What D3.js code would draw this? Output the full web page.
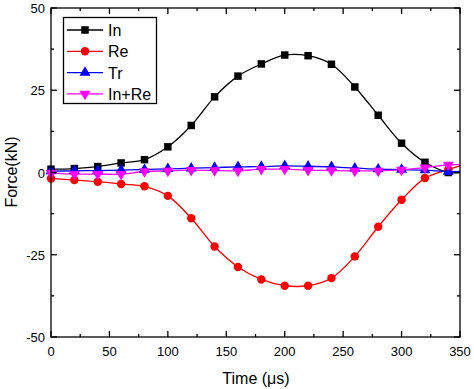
<!DOCTYPE html>
<html><head><meta charset="utf-8">
<script src="https://cdn.jsdelivr.net/npm/d3@7"></script>
<style>body{margin:0;background:#fff}svg{display:block}text{font-family:"Liberation Sans",Arial,sans-serif}</style>
</head><body>
<svg id="c" width="474" height="389"></svg>
<script>
const time = [0,20,40,60,80,100,120,140,160,180,200,220,240,260,280,300,320,340,350];
const inData = [1.0,1.2,1.8,2.9,3.9,7.8,14.3,23.0,29.3,33.0,35.7,35.5,32.9,26.0,17.4,8.9,3.1,0.0,0.0];
const reData = [-1.8,-2.3,-2.8,-3.5,-4.2,-7.1,-13.9,-22.5,-28.7,-32.5,-34.4,-34.4,-32.1,-25.5,-16.5,-8.3,-1.7,0.9,2.0];
const trData = [0.4,0.5,0.6,0.7,0.9,1.1,1.3,1.5,1.7,1.8,2.0,1.9,1.7,1.3,1.0,0.9,0.7,0.3,0.3];
const inReData = [-0.2,-0.5,-0.5,-0.5,0.3,0.5,0.7,0.6,0.5,1.0,1.0,0.7,0.6,0.5,0.5,0.8,1.5,2.3,2.4];
const seriesNames = ["In","Re","Tr","In+Re"];
const seriesColors = ["#000000","#ff0000","#0000ff","#ff00ff"];
const seriesMarkers = ["square","circle","triangle","triangleDown"];
const xTicks = [0,50,100,150,200,250,300,350];
const yTicks = [-50,-25,0,25,50];

const svg = d3.select("#c");
const L=51, R=460, T=8, B=337;
const x = d3.scaleLinear().domain([0,350]).range([L,R]);
const y = d3.scaleLinear().domain([-50,50]).range([B,T]);

const series = [inData,reData,trData,inReData];
const g = svg.append("g");
const line = d3.line().x((d,i)=>x(time[i])).y(d=>y(d)).curve(d3.curveCatmullRom.alpha(0.5));

function marker(sel, type, color){
  const sz = {square:56, circle:56, triangle:52, triangleDown:52}[type];
  const sym = {square:d3.symbolSquare, circle:d3.symbolCircle, triangle:d3.symbolTriangle, triangleDown:d3.symbolTriangle}[type];
  sel.append("path").attr("d", d3.symbol().type(sym).size(sz)())
    .attr("fill", color)
    .attr("transform", type==="triangleDown" ? "rotate(180)" : null);
}

series.forEach((s,k)=>{
  g.append("path").datum(s).attr("d",line).attr("fill","none").attr("stroke",seriesColors[k]).attr("stroke-width",1.3);
});
series.forEach((s,k)=>{
  s.forEach((v,i)=>{
    if (time[i] % 20 !== 0) return;
    const m = g.append("g").attr("transform",`translate(${x(time[i])},${y(v)})`);
    marker(m, seriesMarkers[k], seriesColors[k]);
  });
});

// axes frame
const ax = svg.append("g").attr("stroke","#000").attr("stroke-width",1.3);
ax.append("rect").attr("x",L).attr("y",T).attr("width",R-L).attr("height",B-T).attr("fill","none");
const xMinor = d3.range(25,350,50);
xTicks.forEach(t=>{
  ax.append("line").attr("x1",x(t)).attr("x2",x(t)).attr("y1",B).attr("y2",B-6);
  ax.append("line").attr("x1",x(t)).attr("x2",x(t)).attr("y1",T).attr("y2",T+6);
});
xMinor.forEach(t=>{
  ax.append("line").attr("x1",x(t)).attr("x2",x(t)).attr("y1",B).attr("y2",B-3);
  ax.append("line").attr("x1",x(t)).attr("x2",x(t)).attr("y1",T).attr("y2",T+3);
});
const yMinor = [-37.5,-12.5,12.5,37.5];
yTicks.forEach(t=>{
  ax.append("line").attr("x1",L).attr("x2",L+6).attr("y1",y(t)).attr("y2",y(t));
  ax.append("line").attr("x1",R).attr("x2",R-6).attr("y1",y(t)).attr("y2",y(t));
});
yMinor.forEach(t=>{
  ax.append("line").attr("x1",L).attr("x2",L+3).attr("y1",y(t)).attr("y2",y(t));
  ax.append("line").attr("x1",R).attr("x2",R-3).attr("y1",y(t)).attr("y2",y(t));
});

// tick labels
const lab = svg.append("g").attr("font-size",13).attr("fill","#000");
xTicks.forEach(t=>{
  lab.append("text").attr("x",x(t)).attr("y",356).attr("text-anchor","middle").text(t);
});
yTicks.forEach(t=>{
  lab.append("text").attr("x",L-6).attr("y",y(t)+5).attr("text-anchor","end").text(t);
});

svg.append("text").attr("x",256).attr("y",384).attr("text-anchor","middle").attr("font-size",16).text("Time (μs)");
svg.append("text").attr("transform",`translate(17,${172}) rotate(-90)`).attr("text-anchor","middle").attr("font-size",16).text("Force(kN)");

// legend
const lg = svg.append("g");
lg.append("rect").attr("x",63.5).attr("y",17.5).attr("width",93).attr("height",86).attr("fill","#fff").attr("stroke","#000").attr("stroke-width",1.3);
seriesNames.forEach((n,k)=>{
  const yy = 30 + k*21.3;
  lg.append("line").attr("x1",67).attr("x2",103).attr("y1",yy).attr("y2",yy).attr("stroke",seriesColors[k]).attr("stroke-width",1.3);
  const m = lg.append("g").attr("transform",`translate(85,${yy})`);
  marker(m, seriesMarkers[k], seriesColors[k]);
  lg.append("text").attr("x",108).attr("y",yy+6).attr("font-size",16).text(n);
});
</script>
</body></html>
